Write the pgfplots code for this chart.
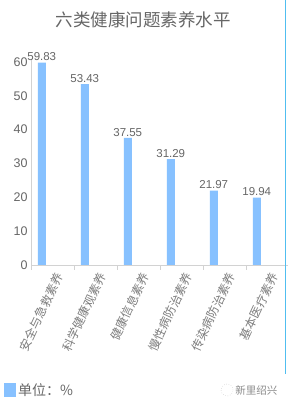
\documentclass[border=0pt]{standalone}
\usepackage{pgfplots}
\pgfplotsset{compat=1.18}
\usepackage{fontspec}
\setmainfont{Liberation Sans}
\newfontfamily\cjk{Noto Sans CJK SC}
\definecolor{barblue}{RGB}{135,193,255}
\definecolor{txtgray}{RGB}{102,102,102}
\definecolor{lblgray}{RGB}{125,125,125}
\definecolor{axgray}{RGB}{210,210,210}
\definecolor{edgeblue}{RGB}{80,190,240}
\begin{document}
\begin{tikzpicture}[x=1pt,y=1pt]
\useasboundingbox (0,0) rectangle (287,406);
\fill[white] (0,0) rectangle (287,406);
\node[text=txtgray,font=\cjk\fontsize{17.5}{20}\selectfont] at (143,386) {六类健康问题素养水平};
\begin{axis}[
  at={(31pt,141pt)}, anchor=south west,
  scale only axis, width=258pt, height=206.4pt,
  xmin=-0.25, xmax=5.75, ymin=0, ymax=61,
  axis x line*=bottom, axis y line*=left,
  axis line style={axgray},
  ybar, bar width=8pt,
  xtick={0.25,1.25,2.25,3.25,4.25,5.25},
  xticklabels={安全与急救素养,科学健康观素养,健康信息素养,慢性病防治素养,传染病防治素养,基本医疗素养},
  major x tick style={draw=none},
  minor xtick={-0.25,0.75,1.75,2.75,3.75,4.75,5.75},
  minor x tick style={axgray},
  minor tick length=5pt,
  xtick align=outside,
  xticklabel style={rotate=65, anchor=east, font=\cjk\fontsize{12}{13}\selectfont, text=lblgray, yshift=-8pt, xshift=2pt},
  ytick={0,10,...,60},
  ytick style={draw=none},
  yticklabel style={font=\fontsize{12.5}{14}\selectfont, text=txtgray},
  /pgf/number format/assume math mode=true,
  nodes near coords={\pgfmathprintnumber[fixed,precision=2,fixed zerofill]{\pgfplotspointmeta}},
  nodes near coords style={font=\fontsize{11.5}{13}\selectfont, text=txtgray, inner sep=1.5pt},
  legend style={at={(-0.105,-0.606)}, anchor=west, draw=none, fill=none, font=\cjk\fontsize{14}{16}\selectfont, text=txtgray, inner sep=0pt},
  legend image code/.code={\fill[barblue] (0pt,-7pt) rectangle (12pt,7pt);},
]
\addplot[fill=barblue, draw=none] coordinates {(0,59.83) (1,53.43) (2,37.55) (3,31.29) (4,21.97) (5,19.94)};
\addlegendentry{单位：\%}
\end{axis}
\node[text=black!45,font=\cjk\fontsize{10.5}{12}\selectfont, anchor=east] at (281,16) {新里绍兴};
\draw[black!30, dotted] (227,16) circle (6pt);
\draw[edgeblue, line width=1pt] (285.5,406) -- (285.5,32);
\end{tikzpicture}
\end{document}
